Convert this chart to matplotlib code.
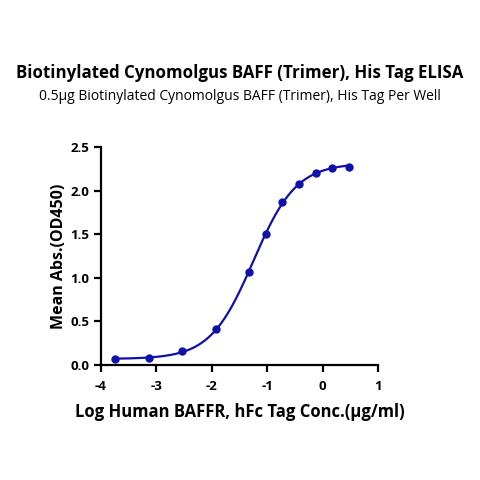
import numpy as np
import matplotlib
matplotlib.use("Agg")
import matplotlib.pyplot as plt

plt.rcParams['font.family'] = ['Open Sans', 'DejaVu Sans']

log_conc = [-3.737, -3.135, -2.533, -1.93, -1.329, -1.028, -0.727, -0.426, -0.125, 0.176, 0.477]
od450 = [0.065, 0.08, 0.157, 0.41, 1.065, 1.497, 1.864, 2.073, 2.207, 2.257, 2.276]

title = "Biotinylated Cynomolgus BAFF (Trimer), His Tag ELISA"
subtitle = "0.5\u00b5g Biotinylated Cynomolgus BAFF (Trimer), His Tag Per Well"
xlabel = "Log Human BAFFR, hFc Tag Conc.(\u00b5g/ml)"
ylabel = "Mean Abs.(OD450)"
xticks = [-4, -3, -2, -1, 0, 1]
yticks = [0.0, 0.5, 1.0, 1.5, 2.0, 2.5]

x = np.array(log_conc)
y = np.array(od450)

# 4-parameter logistic fit (Levenberg-Marquardt, numpy only)
def f4(p, xx):
    bottom, top, logec, hill = p
    return bottom + (top - bottom) / (1 + 10 ** ((logec - xx) * hill))

p = np.array([y.min(), y.max(), -1.3, 1.0])
lam = 1e-3
for _ in range(500):
    r = y - f4(p, x)
    J = np.zeros((len(x), 4))
    for k in range(4):
        dp = np.zeros(4); dp[k] = 1e-6
        J[:, k] = (f4(p + dp, x) - f4(p - dp, x)) / 2e-6
    A = J.T @ J
    g = J.T @ r
    step = np.linalg.solve(A + lam * np.diag(np.diag(A)), g)
    pn = p + step
    if np.sum((y - f4(pn, x)) ** 2) < np.sum(r ** 2):
        p = pn; lam *= 0.5
    else:
        lam *= 2

xs = np.linspace(x.min(), x.max(), 300)
color = '#1010aa'

fig = plt.figure(figsize=(4.8, 4.8), dpi=100)
ax = fig.add_axes([0.21, 0.2396, 0.5775, 0.4542])
ax.plot(xs, f4(p, xs), color=color, lw=1.6)
ax.plot(x, y, 'o', color=color, ms=5)

ax.set_xlim(-4, 1)
ax.set_ylim(0, 2.5)
ax.set_xticks(xticks)
ax.set_xticklabels([str(t) for t in xticks])
ax.set_yticks(yticks)
ax.set_yticklabels([f"{t:.1f}" for t in yticks])
for s in ['top', 'right']:
    ax.spines[s].set_visible(False)
for s in ['left', 'bottom']:
    ax.spines[s].set_linewidth(1.6)
ax.tick_params(width=1.6, length=5, labelsize=9.5)
ax.tick_params(axis='x', pad=6)
ax.tick_params(axis='y', pad=3)
for lbl in ax.get_xticklabels() + ax.get_yticklabels():
    lbl.set_fontweight('bold')
ax.set_xlabel(xlabel, fontsize=12, fontweight='bold', labelpad=7)
ax.set_ylabel(ylabel, fontsize=11.5, fontweight='bold', labelpad=3)

fig.text(0.5, 0.847, title, ha='center', va='center', fontsize=12.2, fontweight='bold')
fig.text(0.5, 0.799, subtitle, ha='center', va='center', fontsize=10)

fig.savefig("out.png", dpi=100)
